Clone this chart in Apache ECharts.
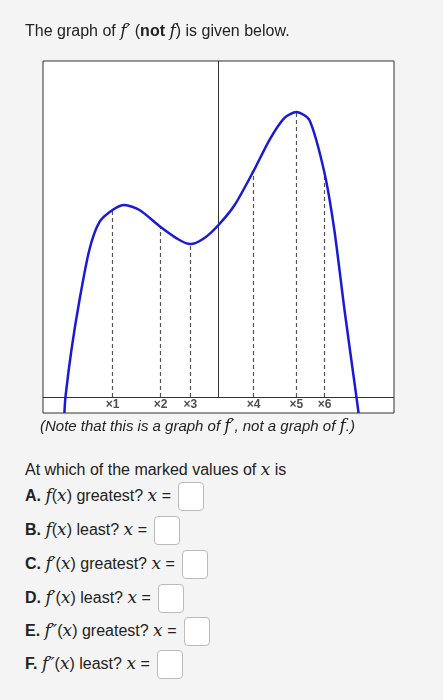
<!DOCTYPE html><html><head><meta charset="utf-8">
<script src="https://cdn.jsdelivr.net/npm/echarts@6/dist/echarts.min.js"></script>
<style>
body{margin:0;background:#f4f4f4;font-family:"Liberation Sans",sans-serif;color:#222;}
#c{position:absolute;left:0;top:0;width:443px;height:440px;}
.t{position:absolute;left:25px;font-size:16px;white-space:nowrap;}
.m{font-family:"DejaVu Serif",serif;font-style:italic;font-size:17px;}
.b{display:inline-block;width:24px;height:27px;border:1px solid #bbb;border-radius:4px;background:#fff;vertical-align:middle;margin-left:3px;}
</style></head><body>
<div id="c"></div>
<div class="t" style="top:20px;">The graph of <span class="m">f′</span> (<b>not</b> <span class="m">f</span>) is given below.</div>
<div class="t" style="top:415px;left:40px;font-style:italic;font-size:15px;">(Note that this is a graph of <span class="m">f′</span>, not a graph of <span class="m">f</span>.)</div>
<div class="t" style="top:459px;">At which of the marked values of <span class="m">x</span> is</div>
<div class="t" style="top:482px;"><b>A.</b> <span class="m">f</span>(<span class="m">x</span>) greatest? <span class="m">x</span> = <span class="b"></span></div>
<div class="t" style="top:516px;"><b>B.</b> <span class="m">f</span>(<span class="m">x</span>) least? <span class="m">x</span> = <span class="b"></span></div>
<div class="t" style="top:550px;"><b>C.</b> <span class="m">f′</span>(<span class="m">x</span>) greatest? <span class="m">x</span> = <span class="b"></span></div>
<div class="t" style="top:584px;"><b>D.</b> <span class="m">f′</span>(<span class="m">x</span>) least? <span class="m">x</span> = <span class="b"></span></div>
<div class="t" style="top:617px;"><b>E.</b> <span class="m">f″</span>(<span class="m">x</span>) greatest? <span class="m">x</span> = <span class="b"></span></div>
<div class="t" style="top:650px;"><b>F.</b> <span class="m">f″</span>(<span class="m">x</span>) least? <span class="m">x</span> = <span class="b"></span></div>
<script>
const curveX=[-4.39,-4.36,-4.19,-3.96,-3.68,-3.39,-3.02,-2.68,-2.25,-1.65,-1.11,-0.80,-0.40,0,0.46,1.0,1.45,1.88,2.22,2.59,3.02,3.30,3.59,3.93,3.99];
const curveY=[-1,0,2.94,6.06,9.19,10.94,11.69,12,11.69,10.63,9.81,9.56,9.94,10.75,12,14.13,16.06,17.44,17.81,17.31,14,10.44,5.44,0,-1];
const markNames=['x1','x2','x3','x4','x5','x6'];
const markX=[-3.02,-1.65,-0.80,1.0,2.22,3.02];
const markY=[11.69,10.63,9.56,14.13,17.81,14];
const ch=echarts.init(document.getElementById('c'));
ch.setOption({animation:false,
grid:{left:43,right:49,top:61,bottom:27,show:true,borderColor:'#333',borderWidth:1,backgroundColor:'#fff'},
xAxis:{type:'value',min:-5,max:5,show:false},
yAxis:{type:'value',min:-1,max:21,show:false},
series:[
{type:'line',data:curveX.map((x,i)=>[x,curveY[i]]),smooth:0.25,symbol:'none',lineStyle:{color:'#1a1ad6',width:2.5},z:5,
 markLine:{silent:true,symbol:'none',label:{show:false},data:[
  [{coord:[-5,0],lineStyle:{color:'#333',type:'solid',width:1}},{coord:[5,0]}],
  [{coord:[0,0],lineStyle:{color:'#333',type:'solid',width:1}},{coord:[0,21]}],
  ...markX.map((x,i)=>[{coord:[x,0],lineStyle:{color:'#555',type:[4,3],width:1.2}},{coord:[x,markY[i]]}])
 ]}},
{type:'scatter',symbolSize:0,data:markX.map((x,i)=>[x,-0.5,markNames[i]]),
 label:{show:true,position:'inside',formatter:p=>p.data[2].replace('x','×'),fontSize:12,fontWeight:'bold',color:'#222',fontFamily:'Liberation Sans'}}
]});
</script></body></html>
